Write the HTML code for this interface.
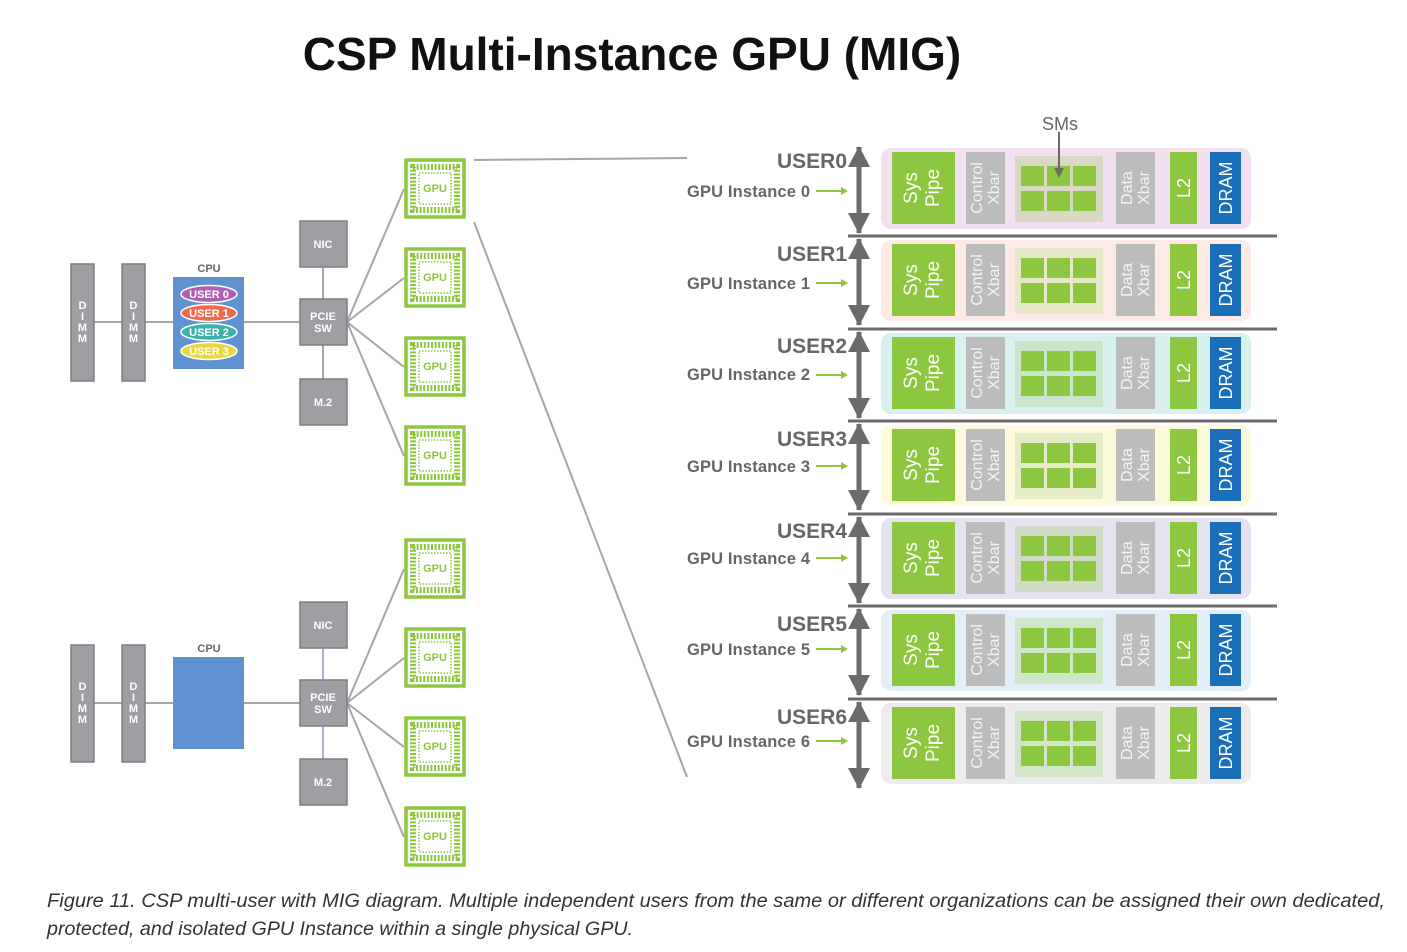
<!DOCTYPE html>
<html><head><meta charset="utf-8"><style>
html,body{margin:0;padding:0;background:#fff;width:1407px;height:952px;overflow:hidden}
svg{display:block}
</style></head><body>
<svg width="1407" height="952" viewBox="0 0 1407 952" xmlns="http://www.w3.org/2000/svg" font-family="Liberation Sans, sans-serif">
<defs>
<g id="gpu">
<rect x="2" y="2" width="58" height="57" fill="#fff" stroke="#8dc63f" stroke-width="3.5"/>
<rect x="9" y="9" width="44" height="43" fill="none" stroke="#8dc63f" stroke-width="6" stroke-dasharray="2 1.6"/>
<rect x="15" y="15" width="32" height="31" fill="#fff"/>
<rect x="15" y="15" width="32" height="31" fill="none" stroke="#8dc63f" stroke-width="1.5" stroke-dasharray="1.5 1.5"/>
</g>
<g id="arr"><rect x="-2.5" y="0" width="5" height="86" fill="#6d6a6a"/><polygon points="-11,20 0,-1 11,20" fill="#6d6a6a"/><polygon points="-11,66 0,87 11,66" fill="#6d6a6a"/></g>
</defs>
<text x="632" y="70" text-anchor="middle" font-size="46" font-weight="bold" fill="#111">CSP Multi-Instance GPU (MIG)</text>

<!-- connector lines -->
<g stroke="#a6a6a6" stroke-width="2" fill="none">
<line x1="474" y1="160" x2="687" y2="158"/>
<line x1="474" y1="222" x2="687" y2="777"/>
<line x1="94" y1="322" x2="122" y2="322"/><line x1="145" y1="322" x2="173" y2="322"/><line x1="244" y1="322" x2="300" y2="322"/>
<line x1="323" y1="267" x2="323" y2="299"/><line x1="323" y1="345" x2="323" y2="379"/>
<line x1="347" y1="322" x2="404" y2="189"/><line x1="347" y1="322" x2="404" y2="278"/><line x1="347" y1="322" x2="404" y2="367"/><line x1="347" y1="322" x2="404" y2="456"/>
<line x1="94" y1="703" x2="122" y2="703"/><line x1="145" y1="703" x2="173" y2="703"/><line x1="244" y1="703" x2="300" y2="703"/>
<line x1="347" y1="703" x2="404" y2="569"/><line x1="347" y1="703" x2="404" y2="658"/><line x1="347" y1="703" x2="404" y2="747"/><line x1="347" y1="703" x2="404" y2="837"/>
</g>
<g stroke="#b9a9d6" stroke-width="2"><line x1="323" y1="647" x2="323" y2="680"/><line x1="323" y1="726" x2="323" y2="759"/></g>

<!-- top server -->
<g fill="#9d9fa2" stroke="#7d7f81" stroke-width="1.5">
<rect x="71" y="264" width="23" height="117"/><rect x="122" y="264" width="23" height="117"/>
<rect x="300" y="221" width="47" height="46"/><rect x="300" y="299" width="47" height="46"/><rect x="300" y="379" width="47" height="46"/>
<rect x="71" y="645" width="23" height="117"/><rect x="122" y="645" width="23" height="117"/>
<rect x="300" y="602" width="47" height="46"/><rect x="300" y="680" width="47" height="46"/><rect x="300" y="759" width="47" height="46"/>
</g>
<g fill="#fff" font-weight="bold" font-size="11" text-anchor="middle">
<text x="82.5" y="309">D</text><text x="82.5" y="320">I</text><text x="82.5" y="331">M</text><text x="82.5" y="342">M</text>
<text x="133.5" y="309">D</text><text x="133.5" y="320">I</text><text x="133.5" y="331">M</text><text x="133.5" y="342">M</text>
<text x="323" y="248">NIC</text><text x="323" y="320">PCIE</text><text x="323" y="332">SW</text><text x="323" y="406">M.2</text>
<text x="82.5" y="690">D</text><text x="82.5" y="701">I</text><text x="82.5" y="712">M</text><text x="82.5" y="723">M</text>
<text x="133.5" y="690">D</text><text x="133.5" y="701">I</text><text x="133.5" y="712">M</text><text x="133.5" y="723">M</text>
<text x="323" y="629">NIC</text><text x="323" y="701">PCIE</text><text x="323" y="713">SW</text><text x="323" y="786">M.2</text>
</g>
<text x="209" y="272" text-anchor="middle" font-size="11" font-weight="bold" fill="#666">CPU</text>
<text x="209" y="652" text-anchor="middle" font-size="11" font-weight="bold" fill="#666">CPU</text>
<rect x="173" y="277" width="71" height="92" fill="#5f92cf"/>
<rect x="173" y="657" width="71" height="92" fill="#5f92cf"/>
<g stroke="#fff" stroke-width="1.5" font-size="11" font-weight="bold" text-anchor="middle">
<ellipse cx="209" cy="294" rx="28" ry="8.5" fill="#b05fb0"/>
<ellipse cx="209" cy="313" rx="28" ry="8.5" fill="#ef6a4a"/>
<ellipse cx="209" cy="332" rx="28" ry="8.5" fill="#3cb3a6"/>
<ellipse cx="209" cy="351" rx="28" ry="8.5" fill="#e8d83a"/>
</g>
<g fill="#fff" font-size="11" font-weight="bold" text-anchor="middle">
<text x="209" y="298">USER 0</text><text x="209" y="317">USER 1</text><text x="209" y="336">USER 2</text><text x="209" y="355">USER 3</text>
</g>

<!-- GPUs -->
<g>
<use href="#gpu" x="404" y="158"/><use href="#gpu" x="404" y="247"/><use href="#gpu" x="404" y="336"/><use href="#gpu" x="404" y="425"/>
<use href="#gpu" x="404" y="538"/><use href="#gpu" x="404" y="627"/><use href="#gpu" x="404" y="716"/><use href="#gpu" x="404" y="806"/>
</g>
<g fill="#8dc63f" font-size="11" font-weight="bold" text-anchor="middle">
<text x="435" y="192">GPU</text><text x="435" y="281">GPU</text><text x="435" y="370">GPU</text><text x="435" y="459">GPU</text>
<text x="435" y="572">GPU</text><text x="435" y="661">GPU</text><text x="435" y="750">GPU</text><text x="435" y="840">GPU</text>
</g>

<!-- separators -->
<g stroke="#6d6a6a" stroke-width="3">
<line x1="848" y1="236" x2="1277" y2="236"/><line x1="848" y1="329" x2="1277" y2="329"/><line x1="848" y1="421" x2="1277" y2="421"/>
<line x1="848" y1="514" x2="1277" y2="514"/><line x1="848" y1="606" x2="1277" y2="606"/><line x1="848" y1="699" x2="1277" y2="699"/>
</g>

<text x="1060" y="130" text-anchor="middle" font-size="18" fill="#666">SMs</text>

<!-- rows -->
<g id="rows">
<!-- row template drawn per row -->
<g transform="translate(0,148)">
<rect x="881" y="0" width="370" height="81" rx="10" fill="#f2dff0"/><rect x="1015" y="8" width="88" height="66" fill="#d9d9c3"/>
</g>
<g transform="translate(0,240)"><rect x="881" y="0" width="370" height="81" rx="10" fill="#fde9e6"/><rect x="1015" y="8" width="88" height="66" fill="#e6e8c8"/></g>
<g transform="translate(0,333)"><rect x="881" y="0" width="370" height="81" rx="10" fill="#d8f0ee"/><rect x="1015" y="8" width="88" height="66" fill="#c9e6cd"/></g>
<g transform="translate(0,425)"><rect x="881" y="0" width="370" height="81" rx="10" fill="#fcf9dc"/><rect x="1015" y="8" width="88" height="66" fill="#e4edc8"/></g>
<g transform="translate(0,518)"><rect x="881" y="0" width="370" height="81" rx="10" fill="#e6e3f1"/><rect x="1015" y="8" width="88" height="66" fill="#d0dcc8"/></g>
<g transform="translate(0,610)"><rect x="881" y="0" width="370" height="81" rx="10" fill="#e3eef8"/><rect x="1015" y="8" width="88" height="66" fill="#d0e6c8"/></g>
<g transform="translate(0,703)"><rect x="881" y="0" width="370" height="81" rx="10" fill="#ececec"/><rect x="1015" y="8" width="88" height="66" fill="#d4e4c8"/></g>
</g>
<defs>
<g id="blocks">
<rect x="892" y="4" width="63" height="72" fill="#8dc63f"/>
<rect x="966" y="4" width="39" height="72" fill="#bcbcbc"/>
<rect x="1116" y="4" width="39" height="72" fill="#bcbcbc"/>
<rect x="1170" y="4" width="27" height="72" fill="#8dc63f"/>
<rect x="1210" y="4" width="31" height="72" fill="#1a6fb8"/>
<g fill="#8dc63f"><rect x="1021" y="18" width="23" height="20"/><rect x="1047" y="18" width="23" height="20"/><rect x="1073" y="18" width="23" height="20"/>
<rect x="1021" y="43" width="23" height="20"/><rect x="1047" y="43" width="23" height="20"/><rect x="1073" y="43" width="23" height="20"/></g>
</g>
</defs>
<use href="#blocks" y="148"/><use href="#blocks" y="240"/><use href="#blocks" y="333"/><use href="#blocks" y="425"/><use href="#blocks" y="518"/><use href="#blocks" y="610"/><use href="#blocks" y="703"/>

<line x1="1059" y1="132" x2="1059" y2="172" stroke="#6d6a6a" stroke-width="2"/>
<polygon points="1054,168 1064,168 1059,178" fill="#6d6a6a"/>

<!-- rotated texts per row -->
<g font-size="19" fill="#fff" text-anchor="middle">
<text transform="translate(917,188) rotate(-90)">Sys</text><text transform="translate(939,188) rotate(-90)">Pipe</text>
<text transform="translate(917,280) rotate(-90)">Sys</text><text transform="translate(939,280) rotate(-90)">Pipe</text>
<text transform="translate(917,373) rotate(-90)">Sys</text><text transform="translate(939,373) rotate(-90)">Pipe</text>
<text transform="translate(917,465) rotate(-90)">Sys</text><text transform="translate(939,465) rotate(-90)">Pipe</text>
<text transform="translate(917,558) rotate(-90)">Sys</text><text transform="translate(939,558) rotate(-90)">Pipe</text>
<text transform="translate(917,650) rotate(-90)">Sys</text><text transform="translate(939,650) rotate(-90)">Pipe</text>
<text transform="translate(917,743) rotate(-90)">Sys</text><text transform="translate(939,743) rotate(-90)">Pipe</text>
</g>
<g font-size="16" fill="#f4f4f4" text-anchor="middle">
<text transform="translate(982,188) rotate(-90)">Control</text><text transform="translate(999,188) rotate(-90)">Xbar</text>
<text transform="translate(982,280) rotate(-90)">Control</text><text transform="translate(999,280) rotate(-90)">Xbar</text>
<text transform="translate(982,373) rotate(-90)">Control</text><text transform="translate(999,373) rotate(-90)">Xbar</text>
<text transform="translate(982,465) rotate(-90)">Control</text><text transform="translate(999,465) rotate(-90)">Xbar</text>
<text transform="translate(982,558) rotate(-90)">Control</text><text transform="translate(999,558) rotate(-90)">Xbar</text>
<text transform="translate(982,650) rotate(-90)">Control</text><text transform="translate(999,650) rotate(-90)">Xbar</text>
<text transform="translate(982,743) rotate(-90)">Control</text><text transform="translate(999,743) rotate(-90)">Xbar</text>
<text transform="translate(1132,188) rotate(-90)">Data</text><text transform="translate(1149,188) rotate(-90)">Xbar</text>
<text transform="translate(1132,280) rotate(-90)">Data</text><text transform="translate(1149,280) rotate(-90)">Xbar</text>
<text transform="translate(1132,373) rotate(-90)">Data</text><text transform="translate(1149,373) rotate(-90)">Xbar</text>
<text transform="translate(1132,465) rotate(-90)">Data</text><text transform="translate(1149,465) rotate(-90)">Xbar</text>
<text transform="translate(1132,558) rotate(-90)">Data</text><text transform="translate(1149,558) rotate(-90)">Xbar</text>
<text transform="translate(1132,650) rotate(-90)">Data</text><text transform="translate(1149,650) rotate(-90)">Xbar</text>
<text transform="translate(1132,743) rotate(-90)">Data</text><text transform="translate(1149,743) rotate(-90)">Xbar</text>
</g>
<g font-size="18" fill="#fff" text-anchor="middle">
<text transform="translate(1190,188) rotate(-90)">L2</text><text transform="translate(1232,188) rotate(-90)">DRAM</text>
<text transform="translate(1190,280) rotate(-90)">L2</text><text transform="translate(1232,280) rotate(-90)">DRAM</text>
<text transform="translate(1190,373) rotate(-90)">L2</text><text transform="translate(1232,373) rotate(-90)">DRAM</text>
<text transform="translate(1190,465) rotate(-90)">L2</text><text transform="translate(1232,465) rotate(-90)">DRAM</text>
<text transform="translate(1190,558) rotate(-90)">L2</text><text transform="translate(1232,558) rotate(-90)">DRAM</text>
<text transform="translate(1190,650) rotate(-90)">L2</text><text transform="translate(1232,650) rotate(-90)">DRAM</text>
<text transform="translate(1190,743) rotate(-90)">L2</text><text transform="translate(1232,743) rotate(-90)">DRAM</text>
</g>

<!-- arrows & labels -->
<use href="#arr" x="859" y="147"/><use href="#arr" x="859" y="239"/><use href="#arr" x="859" y="332"/><use href="#arr" x="859" y="424"/><use href="#arr" x="859" y="517"/><use href="#arr" x="859" y="609"/><use href="#arr" x="859" y="702"/>
<g font-size="21" font-weight="bold" fill="#666" text-anchor="end">
<text x="847" y="168">USER0</text><text x="847" y="261">USER1</text><text x="847" y="353">USER2</text><text x="847" y="446">USER3</text><text x="847" y="538">USER4</text><text x="847" y="631">USER5</text><text x="847" y="724">USER6</text>
</g>
<g font-size="16.5" fill="#666" font-weight="bold">
<text x="687" y="197" textLength="123">GPU Instance 0</text><text x="687" y="289" textLength="123">GPU Instance 1</text><text x="687" y="380" textLength="123">GPU Instance 2</text><text x="687" y="472" textLength="123">GPU Instance 3</text><text x="687" y="564" textLength="123">GPU Instance 4</text><text x="687" y="655" textLength="123">GPU Instance 5</text><text x="687" y="747" textLength="123">GPU Instance 6</text>
</g>
<g stroke="#8dc63f" stroke-width="2" fill="#8dc63f">
<line x1="816" y1="191" x2="842" y2="191"/><polygon points="841,187 848,191 841,195" stroke="none"/>
<line x1="816" y1="283" x2="842" y2="283"/><polygon points="841,279 848,283 841,287" stroke="none"/>
<line x1="816" y1="375" x2="842" y2="375"/><polygon points="841,371 848,375 841,379" stroke="none"/>
<line x1="816" y1="466" x2="842" y2="466"/><polygon points="841,462 848,466 841,470" stroke="none"/>
<line x1="816" y1="558" x2="842" y2="558"/><polygon points="841,554 848,558 841,562" stroke="none"/>
<line x1="816" y1="649" x2="842" y2="649"/><polygon points="841,645 848,649 841,653" stroke="none"/>
<line x1="816" y1="741" x2="842" y2="741"/><polygon points="841,737 848,741 841,745" stroke="none"/>
</g>

<g font-size="19" font-style="italic" fill="#333">
<text x="47" y="907" textLength="1338" lengthAdjust="spacingAndGlyphs">Figure 11. CSP multi-user with MIG diagram. Multiple independent users from the same or different organizations can be assigned their own dedicated,</text>
<text x="47" y="935" textLength="586" lengthAdjust="spacingAndGlyphs">protected, and isolated GPU Instance within a single physical GPU.</text>
</g>
</svg>
</body></html>
